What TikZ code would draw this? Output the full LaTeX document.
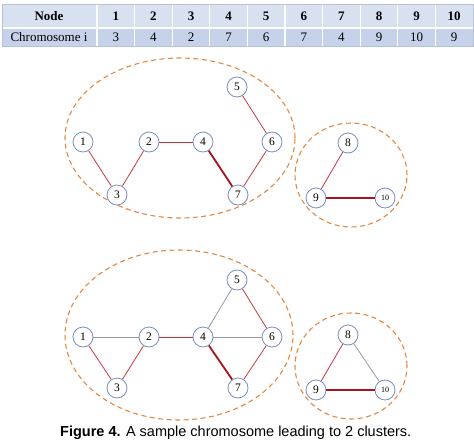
\documentclass[tikz,border=0pt]{standalone}
\usepackage{fontspec}
\setmainfont{Liberation Serif}
\newfontfamily\capfont{Liberation Sans}
\definecolor{rowA}{RGB}{216,225,240}
\definecolor{rowB}{RGB}{197,210,233}
\definecolor{vblue}{RGB}{120,145,192}
\definecolor{eRed}{RGB}{200,55,65}
\definecolor{eDark}{RGB}{165,20,30}
\definecolor{eGray}{RGB}{150,152,168}
\definecolor{clOr}{RGB}{228,135,62}
\tikzset{
  vtx/.style={circle, draw=vblue, fill=white, line width=0.8pt, minimum size=20pt, inner sep=0pt, font=\fontsize{11.5}{11.5}\selectfont},
  vtxs/.style={vtx, font=\fontsize{8}{8}\selectfont},
  redge/.style={draw=eRed, line width=0.8pt},
  tedge/.style={draw=eDark, line width=1.8pt},
  gedge/.style={draw=eGray, line width=0.8pt},
  clus/.style={draw=clOr, line width=1.1pt, dash pattern=on 5pt off 3.5pt},
  cell/.style={font=\fontsize{13}{13}\selectfont},
  hcell/.style={cell, font=\fontsize{13}{13}\selectfont\bfseries}
}
\begin{document}
\begin{tikzpicture}[x=1pt,y=-1pt]
\useasboundingbox (0,0) rectangle (474,442);
% table
\fill[rowA] (2,4) rectangle (473,28);
\fill[rowB] (2,28) rectangle (473,46);
\draw[white, line width=1.2pt] (2,28) -- (473,28);
\foreach \k in {0,...,9} {
  \draw[white, line width=1.2pt] ({97+\k*37.6},4) -- ({97+\k*37.6},46);
}
\draw[rowB!80!gray, line width=0.5pt] (2,4) rectangle (473,46);
\node[hcell] (hnode) at (49,16) {Node};
\node[cell] (hchr) at (49,37) {Chromosome i};
\foreach \v [count=\k] in {3,4,2,7,6,7,4,9,10,9} {
  \node[hcell] (h\k) at ({97+(\k-0.5)*37.6},16) {\k};
  \node[cell] (c\k) at ({97+(\k-0.5)*37.6},37) {\v};
}
% top clusters
\draw[clus] (180,138) ellipse [x radius=115pt, y radius=80pt];
\draw[clus] (351,175) ellipse [x radius=56pt, y radius=52pt];
\node[vtx] (a5) at (237,87) {5};
\node[vtx] (a1) at (83,142) {1};
\node[vtx] (a2) at (149,142) {2};
\node[vtx] (a4) at (203,142) {4};
\node[vtx] (a6) at (272,142) {6};
\node[vtx] (a3) at (117,195) {3};
\node[vtx] (a7) at (238,195) {7};
\node[vtx] (a8) at (348,143) {8};
\node[vtx] (a9) at (316,198) {9};
\node[vtxs] (a10) at (385,198) {10};
\draw[redge] (a1) -- (a3);
\draw[redge] (a3) -- (a2);
\draw[redge] (a2) -- (a4);
\draw[tedge] (a4) -- (a7);
\draw[redge] (a7) -- (a6);
\draw[redge] (a6) -- (a5);
\draw[redge] (a8) -- (a9);
\draw[tedge] (a9) -- (a10);
% bottom clusters
\draw[clus] (179,335) ellipse [x radius=114pt, y radius=85pt];
\draw[clus] (351,366) ellipse [x radius=56pt, y radius=53pt];
\node[vtx] (b5) at (237,280) {5};
\node[vtx] (b1) at (83,337) {1};
\node[vtx] (b2) at (149,337) {2};
\node[vtx] (b4) at (203,337) {4};
\node[vtx] (b6) at (272,337) {6};
\node[vtx] (b3) at (117,388) {3};
\node[vtx] (b7) at (238,388) {7};
\node[vtx] (b8) at (348,335) {8};
\node[vtx] (b9) at (316,390) {9};
\node[vtxs] (b10) at (385,390) {10};
\draw[gedge] (b1) -- (b2);
\draw[redge] (b1) -- (b3);
\draw[redge] (b3) -- (b2);
\draw[redge] (b2) -- (b4);
\draw[gedge] (b4) -- (b5);
\draw[redge] (b5) -- (b6);
\draw[gedge] (b4) -- (b6);
\draw[tedge] (b4) -- (b7);
\draw[redge] (b7) -- (b6);
\draw[redge] (b8) -- (b9);
\draw[gedge] (b8) -- (b10);
\draw[tedge] (b9) -- (b10);
% caption
\node[anchor=west, inner sep=0pt, font=\capfont\fontsize{14.5}{15}\selectfont] (cap) at (60,433) {\textbf{Figure 4.} A sample chromosome leading to 2 clusters.};
\end{tikzpicture}
\end{document}
